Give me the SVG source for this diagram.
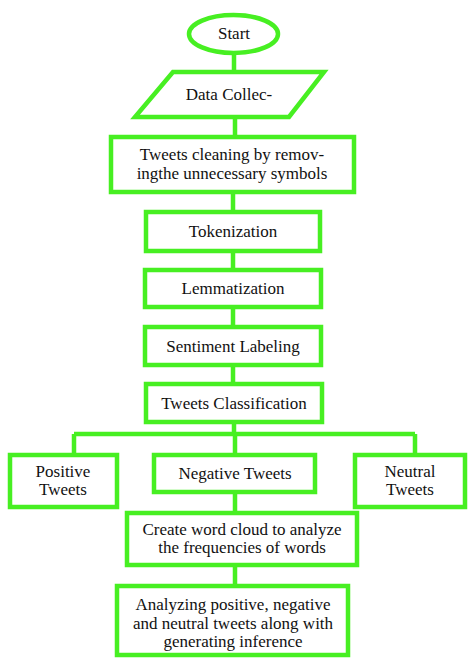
<svg xmlns="http://www.w3.org/2000/svg" width="474" height="666" viewBox="0 0 474 666">
<style>
.s{fill:#fff;stroke:#47ef22;stroke-width:4.5}
.c{fill:none;stroke:#47ef22;stroke-width:4.5}
text{font-family:"Liberation Serif","DejaVu Serif",serif;font-size:17px;fill:#111;text-anchor:middle}
</style>
<rect width="474" height="666" fill="#fff"/>
<g id="connectors">
<path class="c" d="M234 53V72M235 117V137M233 192V212M233 251V270M233 307V327M233 365V384M234 422V434M74 434H415M74 434V455M415 434V455M235 434V455M235 492V513M235 565V586"/>
</g>
<g id="start"><ellipse class="s" cx="233.5" cy="34" rx="44.5" ry="19"/><text x="234" y="39">Start</text></g>
<g id="data"><polygon class="s" points="173,72 324,72 289,117 135,117"/><text x="229" y="100">Data Collec-</text></g>
<g id="clean"><rect class="s" x="111" y="137" width="243" height="55"/><text x="232" y="160">Tweets cleaning by remov-</text><text x="232" y="179">ingthe unnecessary symbols</text></g>
<g id="token"><rect class="s" x="146" y="212" width="174" height="39"/><text x="233" y="237">Tokenization</text></g>
<g id="lemma"><rect class="s" x="145" y="270" width="176" height="37"/><text x="233" y="294">Lemmatization</text></g>
<g id="senti"><rect class="s" x="145" y="327" width="176" height="38"/><text x="233" y="352">Sentiment Labeling</text></g>
<g id="classify"><rect class="s" x="146" y="384" width="176" height="38"/><text x="234" y="409">Tweets Classification</text></g>
<g id="positive"><rect class="s" x="10" y="455" width="107" height="52"/><text x="63" y="477">Positive</text><text x="63" y="495">Tweets</text></g>
<g id="negative"><rect class="s" x="154" y="455" width="161" height="37"/><text x="235" y="479">Negative Tweets</text></g>
<g id="neutral"><rect class="s" x="355" y="455" width="110" height="52"/><text x="410" y="477">Neutral</text><text x="410" y="495">Tweets</text></g>
<g id="cloud"><rect class="s" x="127" y="513" width="230" height="52"/><text x="242" y="535">Create word cloud to analyze</text><text x="242" y="553">the frequencies of words</text></g>
<g id="analyze"><rect class="s" x="117" y="586" width="231" height="69"/><text x="233" y="610">Analyzing positive, negative</text><text x="233" y="629">and neutral tweets along with</text><text x="233" y="647">generating inference</text></g>
</svg>
